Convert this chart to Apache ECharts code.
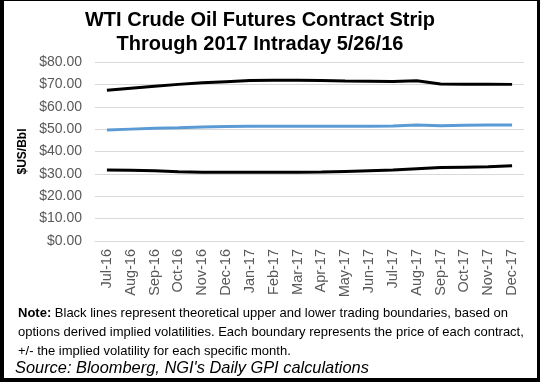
<!DOCTYPE html>
<html>
<head>
<meta charset="utf-8">
<script src="https://cdn.jsdelivr.net/npm/echarts@6/dist/echarts.min.js"></script>
<style>
html,body{margin:0;padding:0;background:#fff;}
#c{width:540px;height:382px;}
</style>
</head>
<body>
<div id="c"></div>
<script>
const categories = ['Jul-16','Aug-16','Sep-16','Oct-16','Nov-16','Dec-16','Jan-17','Feb-17','Mar-17','Apr-17','May-17','Jun-17','Jul-17','Aug-17','Sep-17','Oct-17','Nov-17','Dec-17'];
const upperBound = [67.4,68.3,69.2,70.0,70.7,71.2,71.7,71.8,71.8,71.7,71.5,71.4,71.3,71.6,70.2,70.1,70.1,70.0];
const futuresPrice = [49.6,50.0,50.4,50.6,50.9,51.2,51.3,51.3,51.3,51.3,51.3,51.3,51.4,51.8,51.5,51.7,51.8,51.8];
const lowerBound = [31.7,31.6,31.4,31.0,30.7,30.7,30.7,30.7,30.7,30.8,31.1,31.4,31.7,32.3,32.8,33.0,33.2,33.6];
const yTicks = {min:0, max:80, interval:10};

const FONT = '"Liberation Sans", Arial, sans-serif';
const chart = echarts.init(document.getElementById('c'), null, {renderer:'canvas'});
chart.setOption({
  animation:false,
  backgroundColor:'#fff',
  grid:{left:95, right:16, top:62, bottom:141, containLabel:false},
  xAxis:{
    type:'category', data:categories, boundaryGap:true,
    axisLine:{show:true, lineStyle:{color:'#d9d9d9', width:1}},
    axisTick:{show:false},
    axisLabel:{rotate:90, color:'#595959', fontSize:14.5, fontFamily:FONT, margin:8, interval:0}
  },
  yAxis:{
    type:'value', min:yTicks.min, max:yTicks.max, interval:yTicks.interval,
    name:'$US/Bbl', nameLocation:'middle', nameGap:66, nameRotate:90,
    nameTextStyle:{fontWeight:'bold', fontSize:12, color:'#000', fontFamily:FONT},
    axisLine:{show:false}, axisTick:{show:false},
    axisLabel:{color:'#595959', fontSize:14, fontFamily:FONT, margin:13, formatter:v=>'$'+v.toFixed(2)},
    splitLine:{lineStyle:{color:'#d9d9d9', width:1}}
  },
  series:[
    {type:'line', data:upperBound, symbol:'none', lineStyle:{color:'#000', width:3}},
    {type:'line', data:futuresPrice, symbol:'none', lineStyle:{color:'#5b9bd5', width:3}},
    {type:'line', data:lowerBound, symbol:'none', lineStyle:{color:'#000', width:3}}
  ],
  graphic:[
    {type:'rect', shape:{x:0,y:0,width:4,height:382}, style:{fill:'#000'}},
    {type:'rect', shape:{x:537,y:0,width:3,height:382}, style:{fill:'#000'}},
    {type:'rect', shape:{x:0,y:378,width:540,height:4}, style:{fill:'#000'}},
    {type:'rect', shape:{x:0,y:0,width:540,height:1}, style:{fill:'#000'}},
    {type:'text', x:260, y:20, style:{text:'WTI Crude Oil Futures Contract Strip', font:'bold 20px '+FONT, fill:'#000', textAlign:'center', textVerticalAlign:'middle'}},
    {type:'text', x:260, y:44, style:{text:'Through 2017 Intraday 5/26/16', font:'bold 20px '+FONT, fill:'#000', textAlign:'center', textVerticalAlign:'middle'}},
    {type:'text', x:18, y:313, style:{text:'{b|Note:} Black lines represent theoretical upper and lower trading boundaries, based on', font:'13px '+FONT, fill:'#000', textVerticalAlign:'middle', rich:{b:{font:'bold 13px '+FONT, fill:'#000'}}}},
    {type:'text', x:18, y:332, style:{text:'options derived implied volatilities. Each boundary represents the price of each contract,', font:'13px '+FONT, fill:'#000', textVerticalAlign:'middle'}},
    {type:'text', x:18, y:351, style:{text:'+/- the implied volatility for each specific month.', font:'13px '+FONT, fill:'#000', textVerticalAlign:'middle'}},
    {type:'text', x:15, y:368, style:{text:'Source: Bloomberg, NGI\'s Daily GPI calculations', font:'italic 16.4px '+FONT, fill:'#000', textVerticalAlign:'middle'}}
  ]
});
</script>
</body>
</html>
